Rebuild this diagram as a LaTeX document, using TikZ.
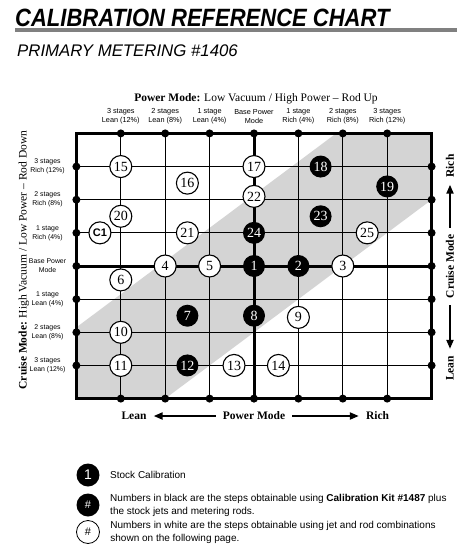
\documentclass[tikz,border=0pt]{standalone}
\usepackage{fontspec}
\setmainfont{Liberation Serif}
\setsansfont{Liberation Sans}
\usepackage{tikz}
\usetikzlibrary{arrows.meta,positioning}
\definecolor{band}{HTML}{D4D4D4}
\definecolor{rulegray}{HTML}{808080}
\tikzset{
  thinline/.style={draw=black, line width=1.2pt},
  thickline/.style={draw=black, line width=3pt},
  edgedot/.style={circle, fill=black, inner sep=0pt, minimum size=8pt},
  stepblack/.style={circle, fill=black, text=white, inner sep=0pt, minimum size=22pt, font=\fontsize{14}{14}\selectfont},
  stepwhite/.style={circle, draw=black, fill=white, line width=1.1pt, inner sep=0pt, minimum size=22pt, font=\fontsize{14}{14}\selectfont},
  collab/.style={font=\sffamily\fontsize{7.3}{8.8}\selectfont, align=center, inner sep=0pt},
  rowlab/.style={font=\sffamily\fontsize{6.9}{9}\selectfont, align=center, inner sep=0pt},
  axtitle/.style={font=\fontsize{11.5}{12}\selectfont, inner sep=0pt},
  axend/.style={font=\bfseries\fontsize{11.5}{12}\selectfont, inner sep=3pt},
  axarrow/.style={line width=2pt, -{Triangle[length=9pt,width=7pt]}, shorten <=4pt, shorten >=4pt},
  legtext/.style={font=\sffamily\fontsize{10}{13}\selectfont, align=left},
}
\begin{document}
\begin{tikzpicture}[x=1pt,y=-1pt]
  \useasboundingbox (0,0) rectangle (474,555);
  \node[anchor=base west, inner sep=0pt, xscale=0.88, font=\sffamily\bfseries\itshape\fontsize{25}{25}\selectfont] (title) at (15,26.5) {CALIBRATION REFERENCE CHART};
  \draw[rulegray, line width=4pt] (15,30.3) -- (457,30.3);
  \node[anchor=base west, inner sep=0pt, font=\sffamily\itshape\fontsize{16.8}{17}\selectfont] (subtitle) at (17,56.5) {PRIMARY METERING \#1406};
  \node[axtitle, anchor=base] (powertitle) at (256,101) {\textbf{Power Mode:} Low Vacuum / High Power -- Rod Up};
  \node[axtitle, rotate=90] (cruisetitle) at (24,260) {\textbf{Cruise Mode:} High Vacuum / Low Power -- Rod Down};

  \begin{scope}[shift={(254,266)}, x=44.4pt, y=33.15pt]
    \fill[band] (-4,-1.85) -- (1.85,4) -- (4,4) -- (4,2) -- (-2,-4) -- (-4,-4) -- cycle;
    \foreach \i in {-3,...,3} {
      \draw[thinline] (\i,-4) -- (\i,4);
      \draw[thinline] (-4,\i) -- (4,\i);
    }
    \draw[thickline] (-4,0) -- (4,0);
    \draw[thickline] (0,-4) -- (0,4);
    \draw[thickline] (-4,-4) rectangle (4,4);
    \foreach \i [count=\k] in {-3,...,3} {
      \node[edgedot] (dtop\k) at (\i,4) {};
      \node[edgedot] (dbot\k) at (\i,-4) {};
      \node[edgedot] (dleft\k) at (-4,\i) {};
      \node[edgedot] (dright\k) at (4,\i) {};
    }
    \foreach \i/\txt [count=\k] in {-3/{3 stages\\Lean (12\%)}, -2/{2 stages\\Lean (8\%)}, -1/{1 stage\\Lean (4\%)}, 0/{Base Power\\Mode}, 1/{1 stage\\Rich (4\%)}, 2/{2 stages\\Rich (8\%)}, 3/{3 stages\\Rich (12\%)}}
      \node[collab] (col\k) at (\i,4.51) {\txt};
    \foreach \i/\txt [count=\k] in {3/{3 stages\\Rich (12\%)}, 2/{2 stages\\Rich (8\%)}, 1/{1 stage\\Rich (4\%)}, 0/{Base Power\\Mode}, -1/{1 stage\\Lean (4\%)}, -2/{2 stages\\Lean (8\%)}, -3/{3 stages\\Lean (12\%)}}
      \node[rowlab] (row\k) at (-4.65,\i) {\txt};
    \foreach \x/\y/\n in {0/0/1, 1/0/2, -1.5/-1.5/7, 0/-1.5/8, -1.5/-3/12, 1.5/3/18, 3/2.4/19, 1.5/1.5/23, 0/1/24}
      \node[stepblack] (s\n) at (\x,\y) {\n};
    \foreach \x/\y/\n in {2/0/3, -2/0/4, -1/0/5, -3/-0.42/6, 1/-1.55/9, -3/-2/10, -3/-3/11, -0.45/-3/13, 0.55/-3/14, -3/3/15, -1.5/2.5/16, 0/3/17, -3/1.5/20, -1.5/1/21, 0/2.1/22, 2.55/1/25}
      \node[stepwhite] (s\n) at (\x,\y) {\n};
    \node[stepwhite, font=\sffamily\bfseries\fontsize{11}{11}\selectfont] (c1) at (-3.47,1) {C1};
  \end{scope}

  \node[axend, rotate=90] (richR) at (450,166) {Rich};
  \node[axend, rotate=90] (cruiseR) at (450,266.5) {Cruise Mode};
  \node[axend, rotate=90] (leanR) at (450,368.5) {Lean};
  \draw[axarrow] (cruiseR) -- (richR);
  \draw[axarrow] (cruiseR) -- (leanR);
  \node[axend] (leanB) at (134,416) {Lean};
  \node[axend] (powerB) at (254,416) {Power Mode};
  \node[axend] (richB) at (377.5,416) {Rich};
  \draw[axarrow] (powerB) -- (leanB);
  \draw[axarrow] (powerB) -- (richB);

  \node[stepblack, minimum size=23pt, font=\sffamily\fontsize{14}{14}\selectfont] (legstock) at (88,475) {1};
  \node[stepblack, minimum size=23pt, font=\sffamily\fontsize{11}{11}\selectfont] (legblack) at (88,505) {\#};
  \node[stepwhite, minimum size=23pt, line width=0.8pt, font=\sffamily\fontsize{11}{11}\selectfont] (legwhite) at (88,532) {\#};
  \node[legtext, right=7pt of legstock] (legstocktxt) {Stock Calibration};
  \node[legtext, right=7pt of legblack] (legblacktxt) {Numbers in black are the steps obtainable using \textbf{Calibration Kit \#1487} plus\\the stock jets and metering rods.};
  \node[legtext, right=7pt of legwhite] (legwhitetxt) {Numbers in white are the steps obtainable using jet and rod combinations\\shown on the following page.};
\end{tikzpicture}
\end{document}
